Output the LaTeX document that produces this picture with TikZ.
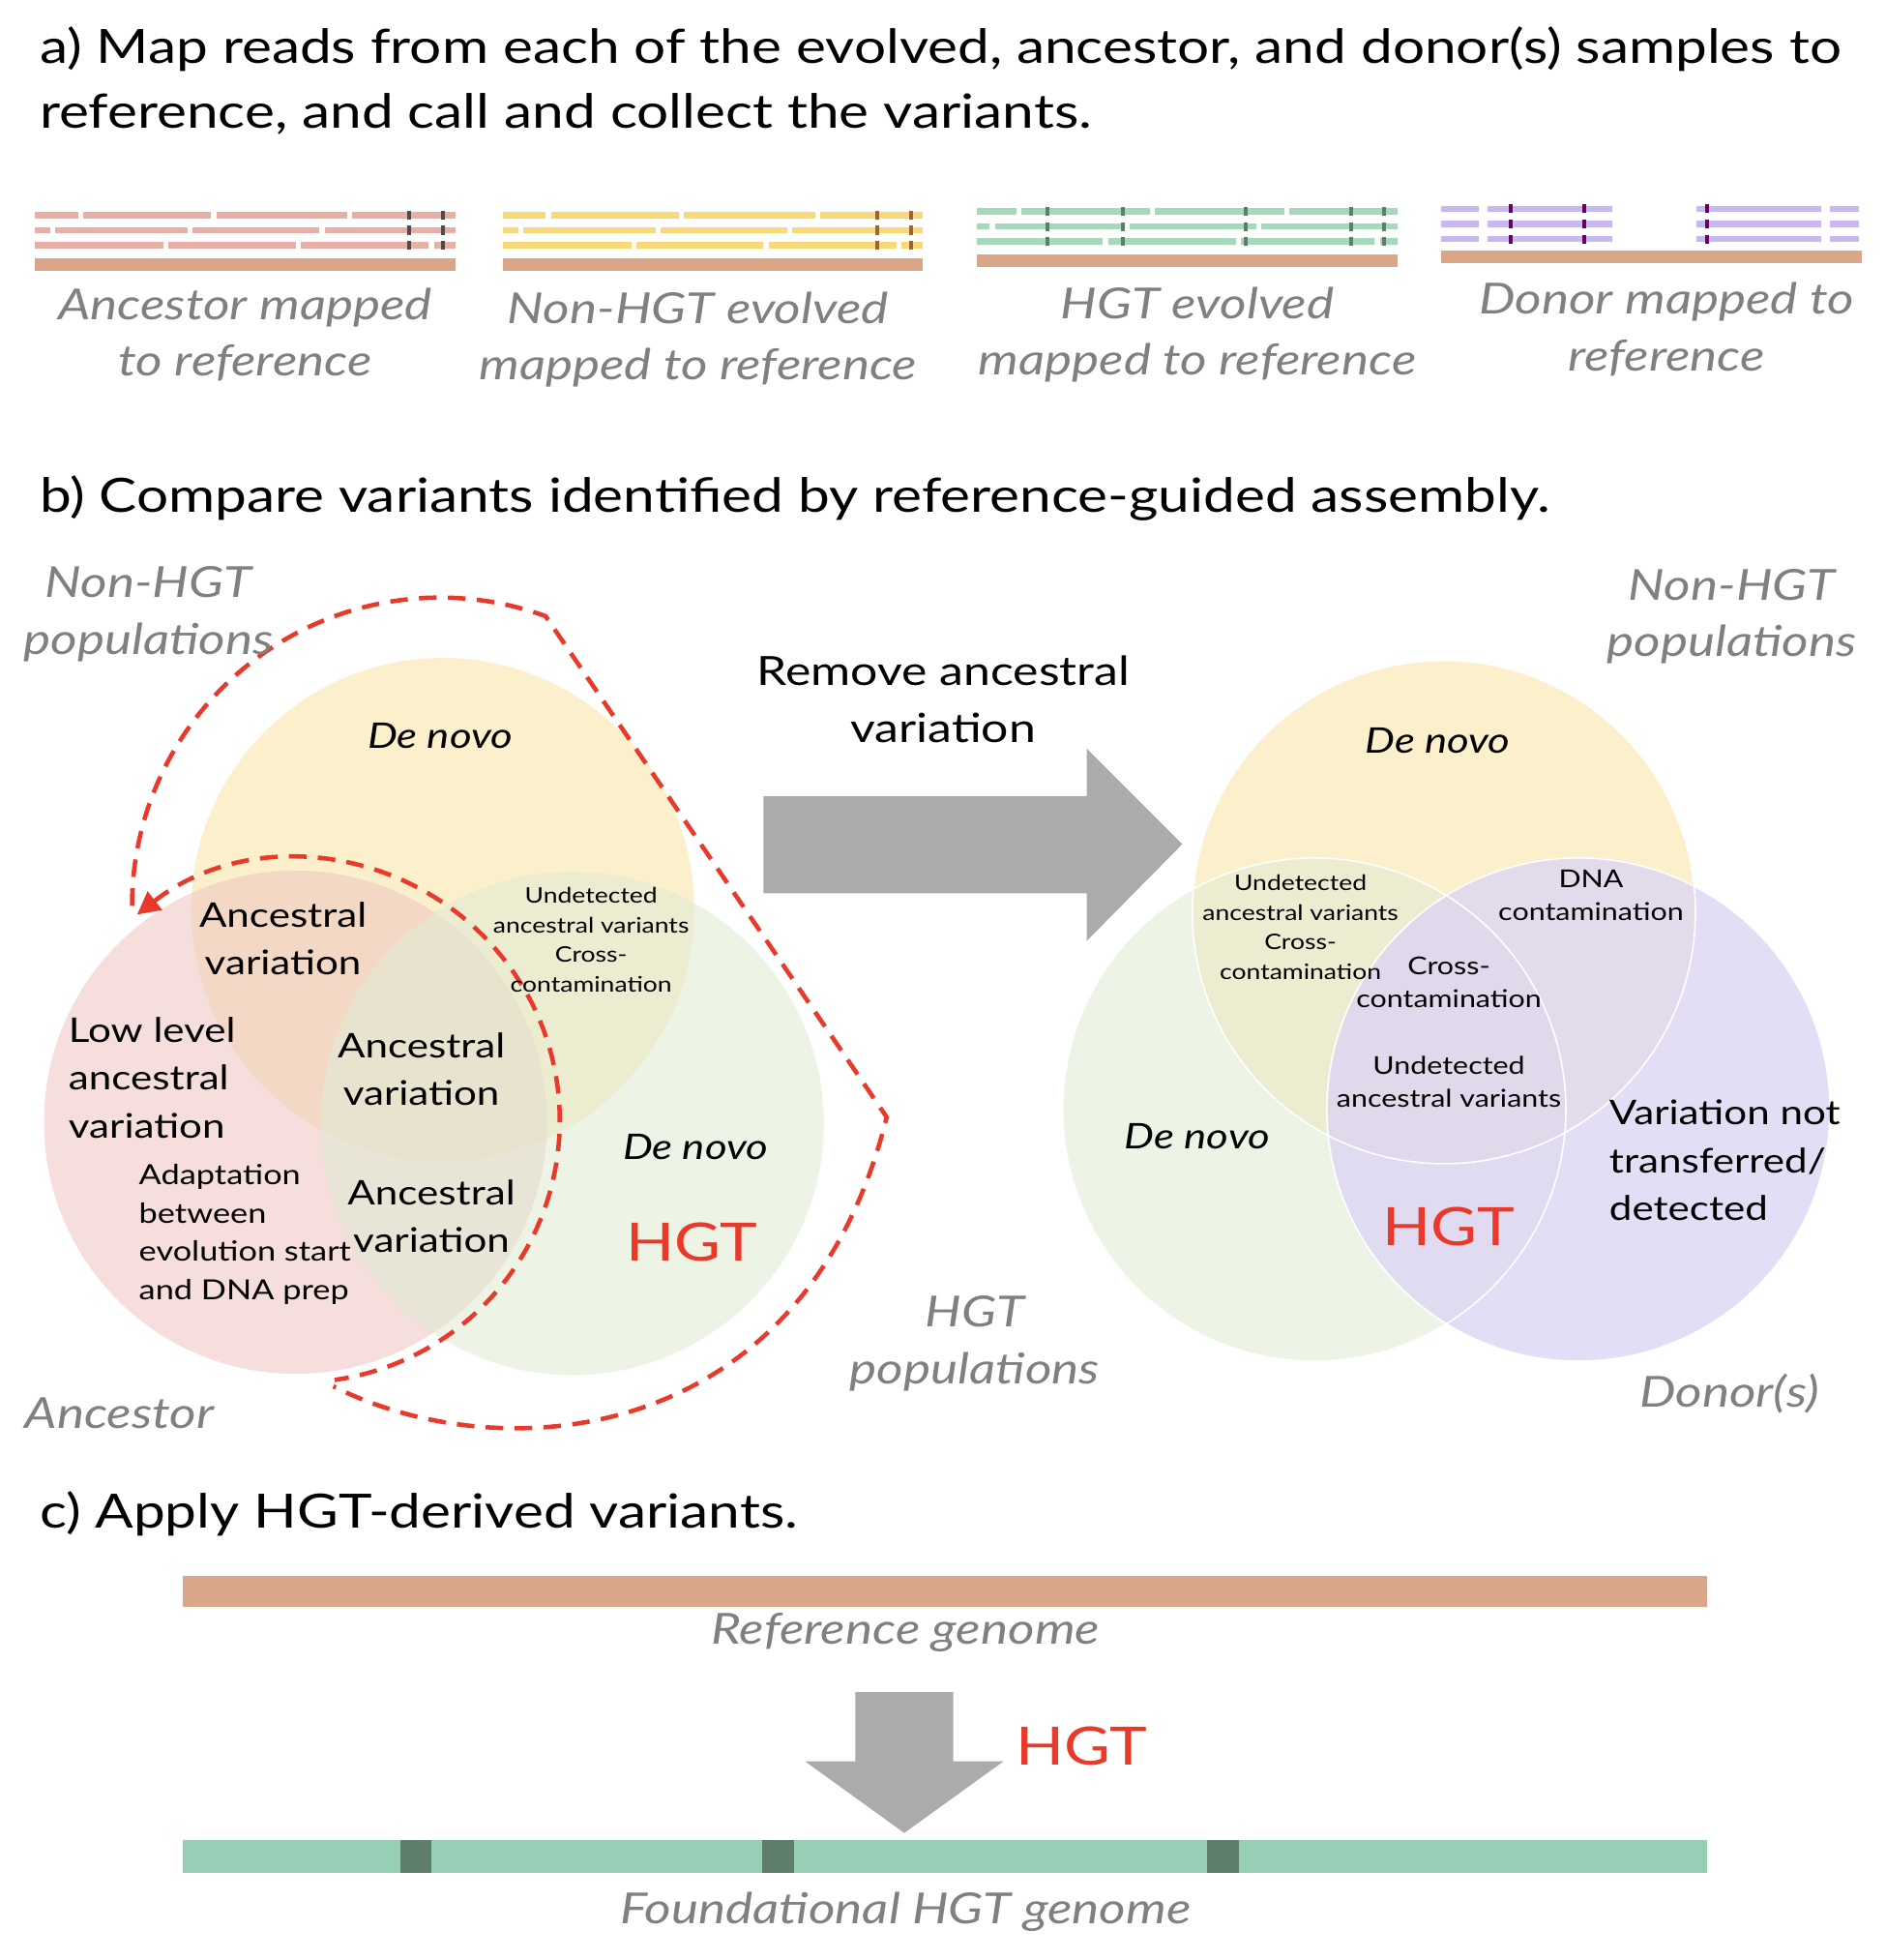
\documentclass[tikz,border=0pt]{standalone}
\usepackage{fontspec}
\setmainfont{Lato}[FakeStretch=1.2]
\usetikzlibrary{arrows.meta}
\definecolor{hred}{HTML}{E8392B}
\definecolor{lbl}{HTML}{808080}
\definecolor{refc}{HTML}{D9A68A}
\definecolor{pinkr}{HTML}{E8B0A5}
\definecolor{yelr}{HTML}{F9D878}
\definecolor{grnr}{HTML}{A8D8BC}
\definecolor{purr}{HTML}{C9B8EE}
\definecolor{cyel}{HTML}{FBEFC6}
\definecolor{cred}{HTML}{EFC9C4}
\definecolor{cgrn}{HTML}{E2EBD4}
\definecolor{cpur}{HTML}{DDD5F3}
\definecolor{arrg}{HTML}{ABABAB}
\definecolor{darkg}{HTML}{5E7E69}
\begin{document}
\begin{tikzpicture}[x=1pt,y=-1pt,
  title/.style={anchor=base west,font=\fontsize{37.5}{44}\selectfont},
  glab/.style={align=center,text=lbl,font=\fontsize{34}{45}\selectfont\itshape},
  vt/.style={align=center,font=\fontsize{27}{38}\selectfont},
  vs/.style={align=center,font=\fontsize{17}{23.5}\selectfont},
  vm/.style={align=center,font=\fontsize{19.5}{26}\selectfont},
  dn/.style={font=\fontsize{28}{34}\selectfont\itshape},
  hgt/.style={text=hred,font=\fontsize{42}{48}\selectfont},
  rd/.style={line width=5pt},
  dsh/.style={hred,line width=3.5pt,dash pattern=on 14pt off 9pt}]
\useasboundingbox (0,0) rectangle (1499,1558);
\fill[white] (0,0) rectangle (1499,1558);
% titles
\node[title] (ta) at (28,50) {a) Map reads from each of the evolved, ancestor, and donor(s) samples to};
\node[title] (ta2) at (28,102) {reference, and call and collect the variants.};
\node[title] (tb) at (28,407) {b) Compare variants identified by reference-guided assembly.};
\node[title] (tc) at (28,1215) {c) Apply HGT-derived variants.};
% panel a
\foreach \x/\c/\m in {28/pinkr/black!70, 400/yelr/brown!80!black}{
  \foreach \y/\ga/\gb/\gc in {171/34/140/248, 183/12/121/226, 195/102/207/313}{
    \draw[rd,\c] (\x,\y) -- ++(334,0);
    \foreach \g in {\ga,\gb,\gc} \fill[white] (\x+\g,\y-4) rectangle ++(4,8);
    \foreach \k in {296,323} \fill[\m] (\x+\k,\y-3.5) rectangle ++(3,7);
  }
  \fill[refc] (\x,205) rectangle ++(334,10);
}
\foreach \y/\ga/\gb/\gc in {168/31/137/244, 180/10/117/222, 192/100/206/316}{
  \draw[rd,grnr] (777,\y) -- ++(334,0);
  \foreach \g in {\ga,\gb,\gc} \fill[white] (777+\g,\y-4) rectangle ++(4,8);
  \foreach \k in {54,114,212,296,322} \fill[darkg] (777+\k,\y-3.5) rectangle ++(3,7);
}
\fill[refc] (777,202) rectangle ++(334,10);
\foreach \y in {166,178,190}{
  \draw[rd,purr] (1146,\y) -- (1176,\y) (1183,\y) -- (1282,\y) (1349,\y) -- (1448,\y) (1455,\y) -- (1478,\y);
  \foreach \k in {1200,1258,1356} \fill[violet!80!black] (\k,\y-3.5) rectangle ++(3,7);
}
\fill[refc] (1146,199) rectangle ++(334,10);
\node[glab] (la1) at (195,266) {Ancestor mapped\\to reference};
\node[glab] (la2) at (555,270) {Non-HGT evolved\\mapped to reference};
\node[glab] (la3) at (952,266) {HGT evolved\\mapped to reference};
\node[glab] (la4) at (1325,262) {Donor mapped to\\reference};
% left venn
\fill[cyel,fill opacity=0.9] (352,723) circle (200);
\fill[cred,fill opacity=0.6] (235,892) circle (200);
\fill[cgrn,fill opacity=0.6] (455,893) circle (200);
% dashed outline
\draw[dsh] (105,720) arc[start angle=180,end angle=290,radius=245]
  coordinate (dtop) -- (705,888) coordinate (dright)
  .. controls (640,1150) and (400,1170) .. (265,1102);
\draw[dsh,{Triangle[length=18pt,width=18pt]}-] (109,727) arc[start angle=232,end angle=442,radius=208];
\node[glab] (np1) at (118,488) {Non-HGT\\populations};
\node[dn] (dn1) at (350,585) {De novo};
\node[vt] (av1) at (225,746) {Ancestral\\variation};
\node[vs] (ud1) at (470,747) {Undetected\\ancestral variants\\Cross-\\contamination};
\node[vt,align=left,anchor=north west] (ll) at (51,805) {Low level\\ancestral\\variation};
\node[vt] (av2) at (335,850) {Ancestral\\variation};
\node[align=left,anchor=north west,font=\fontsize{22}{30.5}\selectfont] (ad) at (107,922) {Adaptation\\between\\evolution start\\and DNA prep};
\node[vt] (av3) at (343,967) {Ancestral\\variation};
\node[dn] (dn2) at (553,912) {De novo};
\node[hgt] (h1) at (550,987) {HGT};
\node[glab] (anc) at (95,1123) {Ancestor};
\node[glab] (hp) at (775,1068) {HGT\\populations};
% big arrow
\fill[arrg] (607,633) -- (864,633) -- (864,595) -- (940,671) -- (864,748) -- (864,710) -- (607,710) -- cycle;
\node[align=center,font=\fontsize{32}{45}\selectfont] (rm) at (750,556) {Remove ancestral\\variation};
% right venn
\fill[cyel,fill opacity=0.9] (1148,725) circle (200);
\fill[cgrn,fill opacity=0.6] (1045,882) circle (200);
\fill[cpur,fill opacity=0.8] (1255,882) circle (200);
\draw[white,line width=1.2pt] (1148,725) circle (200) (1045,882) circle (200) (1255,882) circle (200);
\node[glab] (np2) at (1377,490) {Non-HGT\\populations};
\node[dn] (dn3) at (1143,589) {De novo};
\node[vs] (ud2) at (1034,737) {Undetected\\ancestral variants\\Cross-\\contamination};
\node[vm] (dc) at (1265,712) {DNA\\contamination};
\node[vm] (cc) at (1152,781) {Cross-\\contamination};
\node[vm] (ud3) at (1152,860) {Undetected\\ancestral variants};
\node[dn] (dn4) at (952,903) {De novo};
\node[vt,align=left,anchor=north west] (vn) at (1276,871) {Variation not\\transferred/\\detected};
\node[hgt] (h2) at (1152,975) {HGT};
\node[glab] (don) at (1375,1108) {Donor(s)};
% panel c
\fill[refc] (145,1253) rectangle (1357,1277);
\node[glab] (rg) at (720,1298) {Reference genome};
\fill[arrg] (680,1345) -- (758,1345) -- (758,1400) -- (798,1400) -- (719,1457) -- (640,1400) -- (680,1400) -- cycle;
\node[hgt] (h3) at (860,1388) {HGT};
\fill[grnr!90!teal] (145,1463) rectangle (1357,1489);
\foreach \k in {318,606,960} \fill[darkg] (\k,1463) rectangle ++(25,26);
\node[glab] (fg) at (720,1520) {Foundational HGT genome};
\end{tikzpicture}
\end{document}
